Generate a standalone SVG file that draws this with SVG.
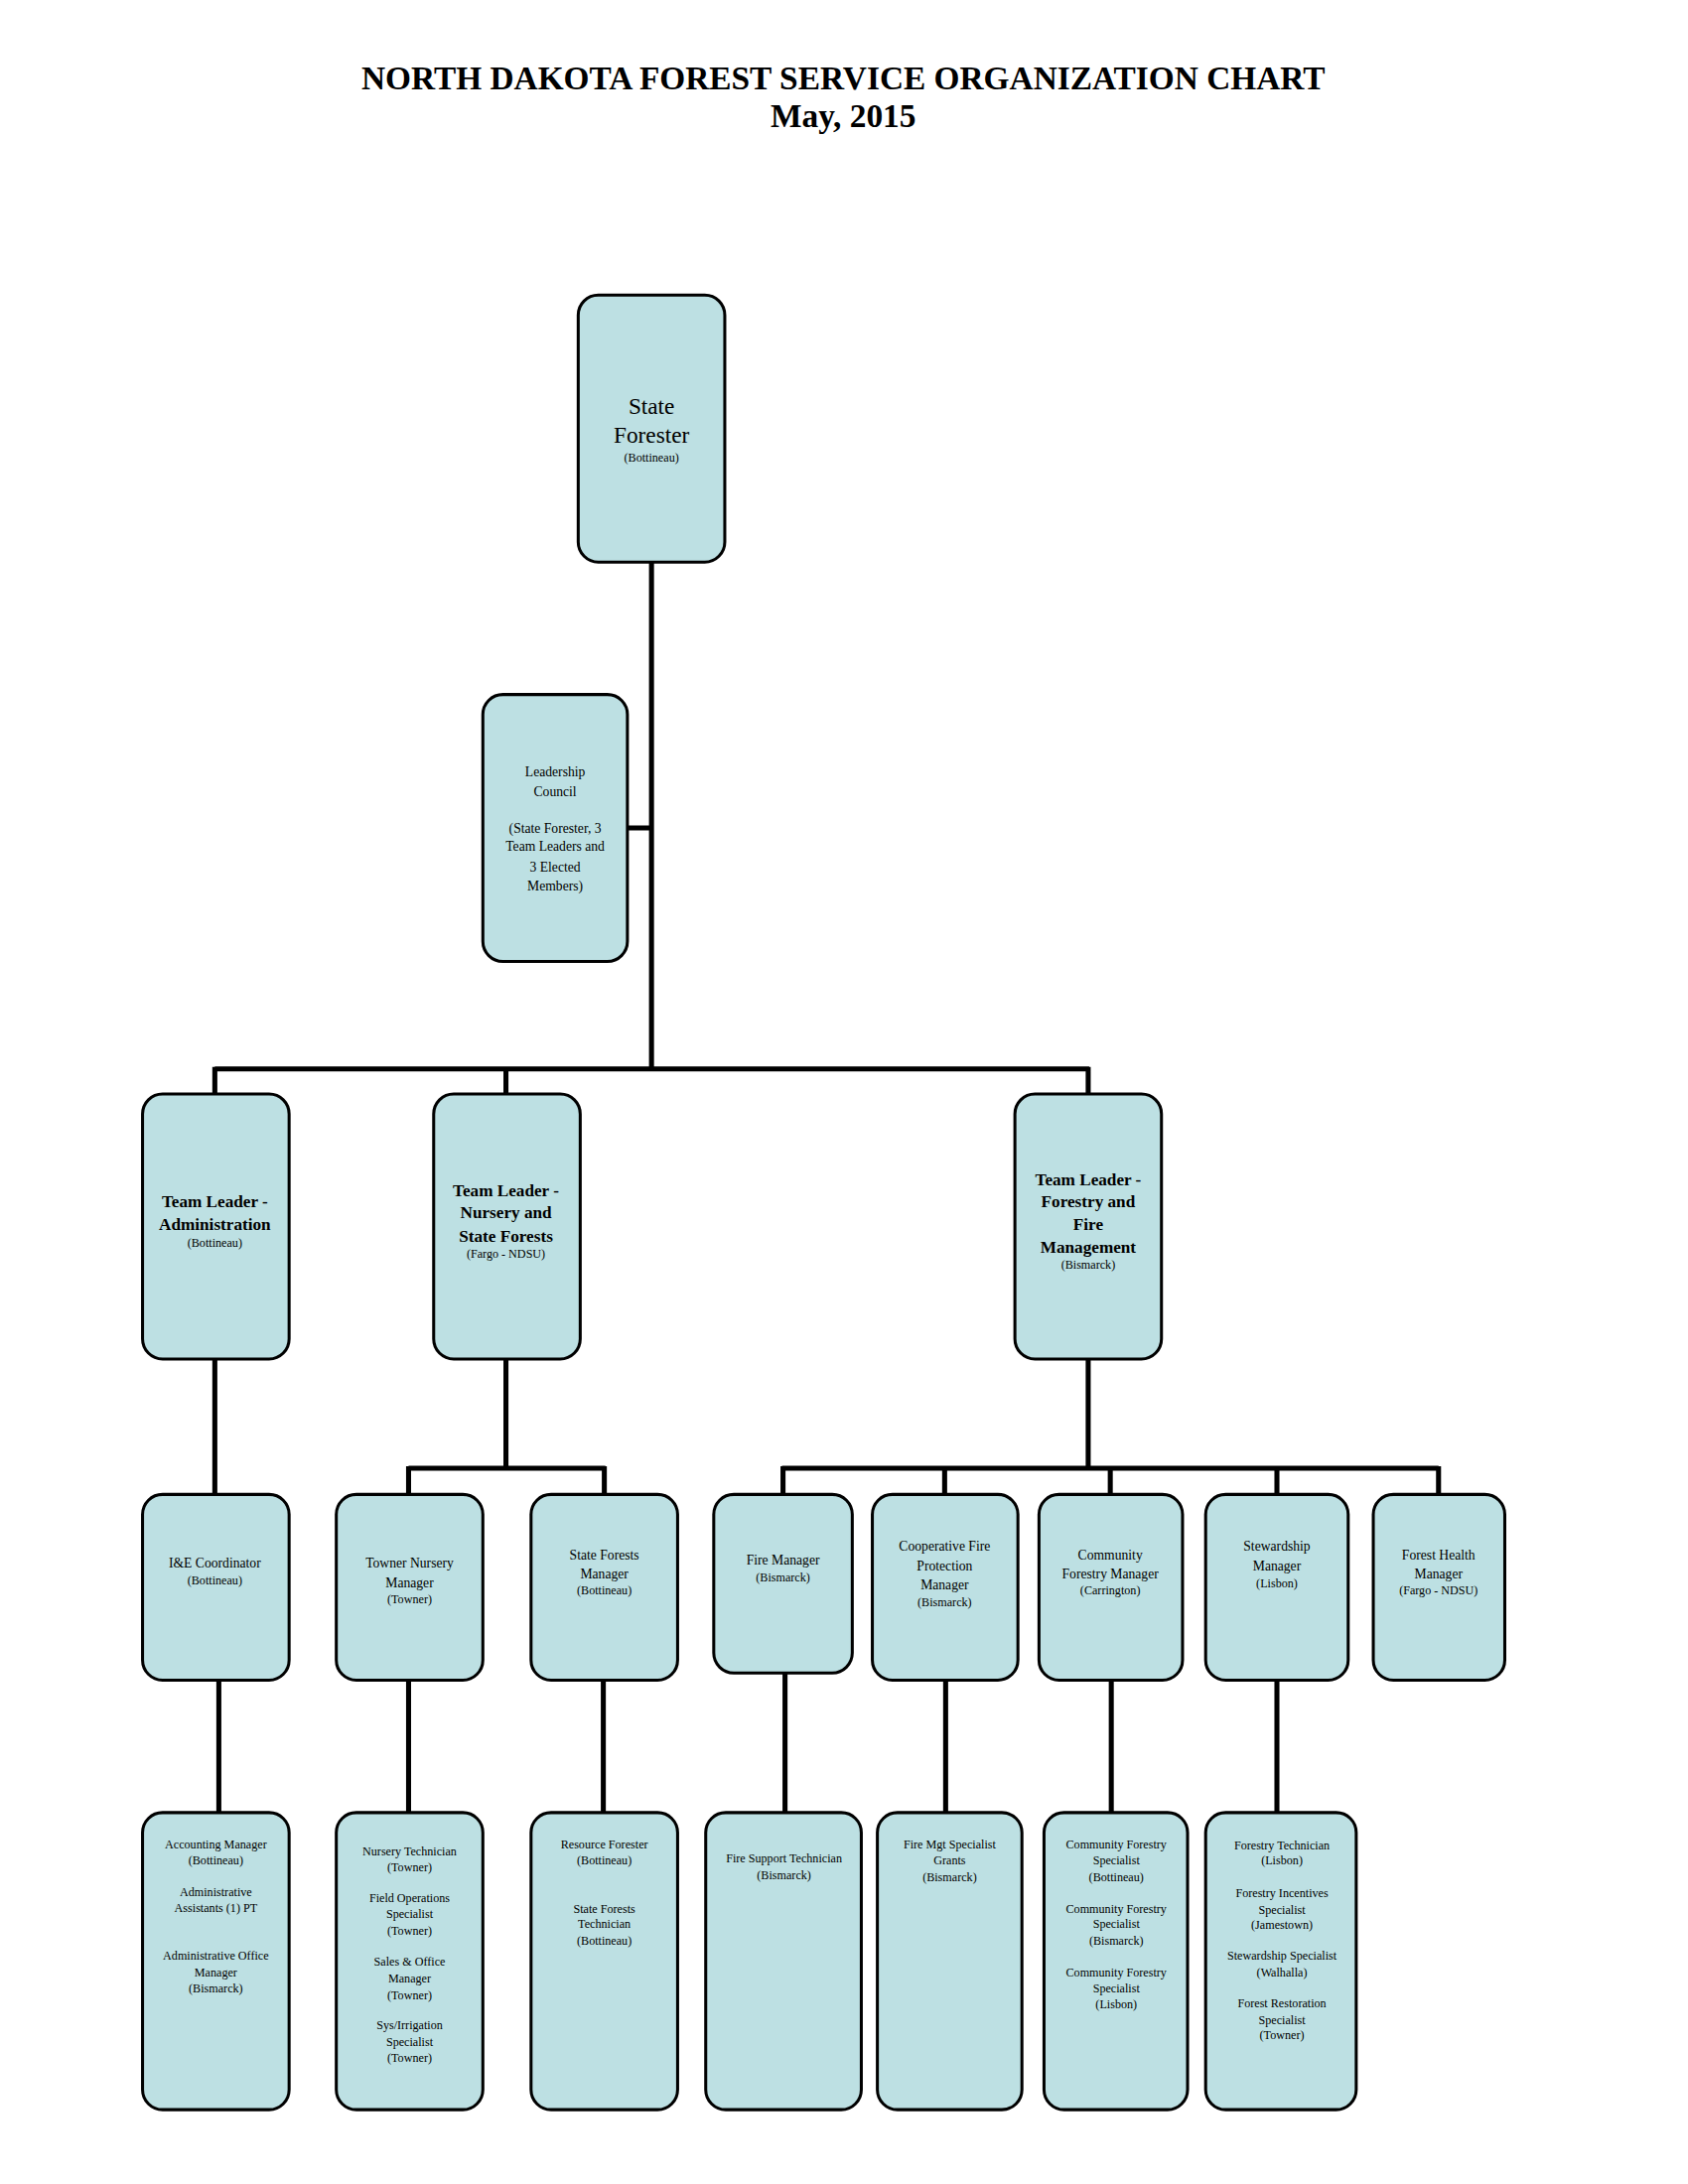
<svg xmlns="http://www.w3.org/2000/svg" width="1700" height="2200" viewBox="0 0 1700 2200">
<style>
.b{fill:#bde0e3;stroke:#000;stroke-width:3}
.c{fill:none;stroke:#000;stroke-width:5}
text{font-family:"Liberation Serif","Times New Roman",serif;text-anchor:middle;fill:#000}
.s{font-size:13.5px}
.x{font-size:12px}
.t{font-size:17px;font-weight:bold}
.h{font-size:33px;font-weight:bold}
.m{font-size:23px}
</style>
<rect width="1700" height="2200" fill="#fff"/>
<g transform="scale(1.011)">
<text class="h" x="840" y="89">NORTH DAKOTA FOREST SERVICE ORGANIZATION CHART</text>
<text class="h" x="840" y="127">May, 2015</text>
<g id="connectors" class="c">
<path d="M649 560V1065M625 825H649M214 1065H1085M214 1063V1090M504 1063V1090M1084 1063V1090"/>
<path d="M214 1354V1489M504 1354V1463M407 1463H603M407 1461V1489M602 1461V1489"/>
<path d="M1084 1354V1463M779 1463H1433M780 1461V1489M941 1461V1489M1106 1461V1489M1272 1461V1489M1433 1461V1489"/>
<path d="M218 1674V1806M407 1674V1806M601 1674V1806M782 1667V1806M942 1674V1806M1107 1674V1806M1272 1674V1806"/>
</g>
<g id="state-forester"><rect class="b" x="576" y="294" width="146" height="266" rx="20"/>
<text class="m" x="649" y="412">State</text><text class="m" x="649" y="441">Forester</text><text class="x" x="649" y="460">(Bottineau)</text></g>
<g id="leadership"><rect class="b" x="481" y="692" width="144" height="266" rx="20"/>
<text class="s" x="553" y="773">Leadership</text><text class="s" x="553" y="793">Council</text>
<text class="s" x="553" y="830">(State Forester, 3</text><text class="s" x="553" y="848">Team Leaders and</text><text class="s" x="553" y="868">3 Elected</text><text class="s" x="553" y="887">Members)</text></g>
<g id="tl-admin"><rect class="b" x="142" y="1090" width="146" height="264" rx="20"/>
<text class="t" x="214" y="1203">Team Leader -</text><text class="t" x="214" y="1226">Administration</text><text class="x" x="214" y="1242">(Bottineau)</text></g>
<g id="tl-nursery"><rect class="b" x="432" y="1090" width="146" height="264" rx="20"/>
<text class="t" x="504" y="1192">Team Leader -</text><text class="t" x="504" y="1214">Nursery and</text><text class="t" x="504" y="1237">State Forests</text><text class="x" x="504" y="1253">(Fargo - NDSU)</text></g>
<g id="tl-forestry"><rect class="b" x="1011" y="1090" width="146" height="264" rx="20"/>
<text class="t" x="1084" y="1181">Team Leader -</text><text class="t" x="1084" y="1203">Forestry and</text><text class="t" x="1084" y="1226">Fire</text><text class="t" x="1084" y="1248">Management</text><text class="x" x="1084" y="1264">(Bismarck)</text></g>
<g id="ie"><rect class="b" x="142" y="1489" width="146" height="185" rx="20"/>
<text class="s" x="214" y="1562">I&amp;E Coordinator</text><text class="x" x="214" y="1579">(Bottineau)</text></g>
<g id="towner"><rect class="b" x="335" y="1489" width="146" height="185" rx="20"/>
<text class="s" x="408" y="1562">Towner Nursery</text><text class="s" x="408" y="1582">Manager</text><text class="x" x="408" y="1597">(Towner)</text></g>
<g id="sfm"><rect class="b" x="529" y="1489" width="146" height="185" rx="20"/>
<text class="s" x="602" y="1554">State Forests</text><text class="s" x="602" y="1573">Manager</text><text class="x" x="602" y="1589">(Bottineau)</text></g>
<g id="fire"><rect class="b" x="711" y="1489" width="138" height="178" rx="20"/>
<text class="s" x="780" y="1559">Fire Manager</text><text class="x" x="780" y="1576">(Bismarck)</text></g>
<g id="coop"><rect class="b" x="869" y="1489" width="145" height="185" rx="20"/>
<text class="s" x="941" y="1545">Cooperative Fire</text><text class="s" x="941" y="1565">Protection</text><text class="s" x="941" y="1584">Manager</text><text class="x" x="941" y="1600">(Bismarck)</text></g>
<g id="community"><rect class="b" x="1035" y="1489" width="143" height="185" rx="20"/>
<text class="s" x="1106" y="1554">Community</text><text class="s" x="1106" y="1573">Forestry Manager</text><text class="x" x="1106" y="1589">(Carrington)</text></g>
<g id="stewardship"><rect class="b" x="1201" y="1489" width="142" height="185" rx="20"/>
<text class="s" x="1272" y="1545">Stewardship</text><text class="s" x="1272" y="1565">Manager</text><text class="x" x="1272" y="1582">(Lisbon)</text></g>
<g id="health"><rect class="b" x="1368" y="1489" width="131" height="185" rx="20"/>
<text class="s" x="1433" y="1554">Forest Health</text><text class="s" x="1433" y="1573">Manager</text><text class="x" x="1433" y="1589">(Fargo - NDSU)</text></g>
<g id="l4-admin"><rect class="b" x="142" y="1806" width="146" height="296" rx="20"/>
<text class="x" x="215" y="1842">Accounting Manager</text><text class="x" x="215" y="1858">(Bottineau)</text>
<text class="x" x="215" y="1889">Administrative</text><text class="x" x="215" y="1905">Assistants (1) PT</text>
<text class="x" x="215" y="1953">Administrative Office</text><text class="x" x="215" y="1969">Manager</text><text class="x" x="215" y="1985">(Bismarck)</text></g>
<g id="l4-nursery"><rect class="b" x="335" y="1806" width="146" height="296" rx="20"/>
<text class="x" x="408" y="1849">Nursery Technician</text><text class="x" x="408" y="1864">(Towner)</text>
<text class="x" x="408" y="1895">Field Operations</text><text class="x" x="408" y="1911">Specialist</text><text class="x" x="408" y="1928">(Towner)</text>
<text class="x" x="408" y="1958">Sales &amp; Office</text><text class="x" x="408" y="1975">Manager</text><text class="x" x="408" y="1992">(Towner)</text>
<text class="x" x="408" y="2022">Sys/Irrigation</text><text class="x" x="408" y="2039">Specialist</text><text class="x" x="408" y="2054">(Towner)</text></g>
<g id="l4-state"><rect class="b" x="529" y="1806" width="146" height="296" rx="20"/>
<text class="x" x="602" y="1842">Resource Forester</text><text class="x" x="602" y="1858">(Bottineau)</text>
<text class="x" x="602" y="1906">State Forests</text><text class="x" x="602" y="1921">Technician</text><text class="x" x="602" y="1938">(Bottineau)</text></g>
<g id="l4-fire"><rect class="b" x="703" y="1806" width="155" height="296" rx="20"/>
<text class="x" x="781" y="1856">Fire Support Technician</text><text class="x" x="781" y="1872">(Bismarck)</text></g>
<g id="l4-coop"><rect class="b" x="874" y="1806" width="144" height="296" rx="20"/>
<text class="x" x="946" y="1842">Fire Mgt Specialist</text><text class="x" x="946" y="1858">Grants</text><text class="x" x="946" y="1874">(Bismarck)</text></g>
<g id="l4-community"><rect class="b" x="1040" y="1806" width="143" height="296" rx="20"/>
<text class="x" x="1112" y="1842">Community Forestry</text><text class="x" x="1112" y="1858">Specialist</text><text class="x" x="1112" y="1874">(Bottineau)</text>
<text class="x" x="1112" y="1906">Community Forestry</text><text class="x" x="1112" y="1921">Specialist</text><text class="x" x="1112" y="1938">(Bismarck)</text>
<text class="x" x="1112" y="1969">Community Forestry</text><text class="x" x="1112" y="1985">Specialist</text><text class="x" x="1112" y="2001">(Lisbon)</text></g>
<g id="l4-stew"><rect class="b" x="1201" y="1806" width="150" height="296" rx="20"/>
<text class="x" x="1277" y="1843">Forestry Technician</text><text class="x" x="1277" y="1858">(Lisbon)</text>
<text class="x" x="1277" y="1890">Forestry Incentives</text><text class="x" x="1277" y="1907">Specialist</text><text class="x" x="1277" y="1922">(Jamestown)</text>
<text class="x" x="1277" y="1953">Stewardship Specialist</text><text class="x" x="1277" y="1969">(Walhalla)</text>
<text class="x" x="1277" y="2000">Forest Restoration</text><text class="x" x="1277" y="2017">Specialist</text><text class="x" x="1277" y="2032">(Towner)</text></g>
</g>
</svg>
